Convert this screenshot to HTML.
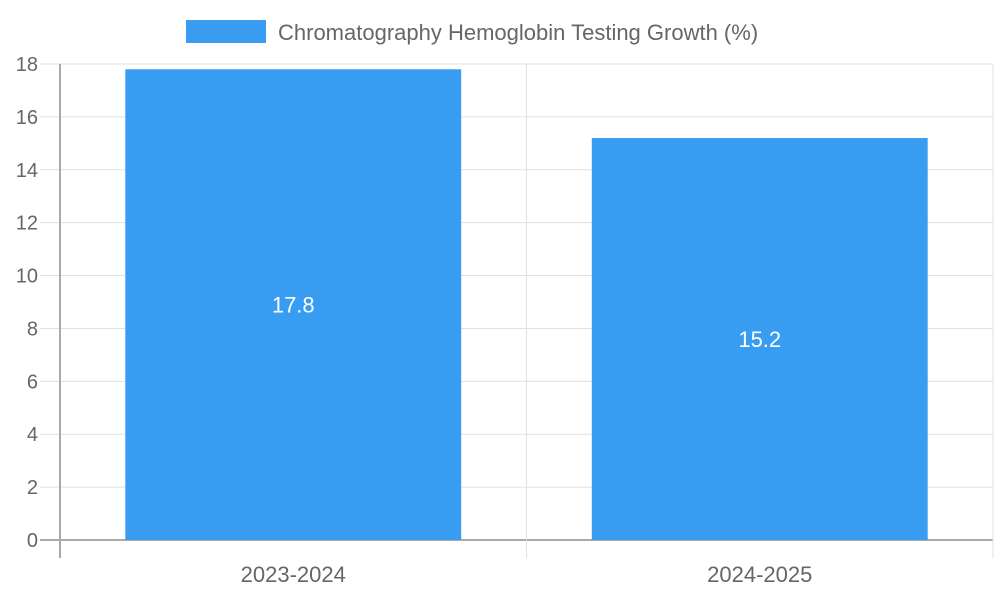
<!DOCTYPE html>
<html><head><meta charset="utf-8"><style>
html,body{margin:0;padding:0;background:#fff;}
svg{display:block;font-family:"Liberation Sans",sans-serif;}
</style></head><body>
<svg id="chart" width="1000" height="600">
<g id="grid"></g>
<g id="bars"></g>
<g id="axes"></g>
<g>
<rect x="186" y="20" width="80" height="23" fill="#389cf1"/>
<text x="278" y="40" font-size="22" fill="#666">Chromatography Hemoglobin Testing Growth (%)</text>
</g>
</svg>
<script>
const categories = ["2023-2024","2024-2025"];
const values = [17.8, 15.2];
const yTicks = [0,2,4,6,8,10,12,14,16,18];
const NS="http://www.w3.org/2000/svg";
const L=60,R=993,T=64,B=540,yMax=18;
function y(v){return B-(v/yMax)*(B-T);}
const cw=(R-L)/categories.length;
function xc(i){return L+cw*(i+0.5);}
function mk(tag,attrs,parent,text){const e=document.createElementNS(NS,tag);for(const k in attrs)e.setAttribute(k,attrs[k]);if(text!==undefined)e.textContent=text;parent.appendChild(e);return e;}
const grid=document.getElementById('grid'),bars=document.getElementById('bars'),axes=document.getElementById('axes');
yTicks.forEach(t=>{
  const ln=mk('line',{x1:40,x2:R,y1:y(t),y2:y(t),stroke:t===0?'#aaa':'#e0e0e0','stroke-width':t===0?2:1},grid);
  
  
  const tx=mk('text',{x:38,y:y(t)+7,'text-anchor':'end','font-size':20,fill:'#666'},axes,String(t));
  
  
});
for(let i=0;i<=categories.length;i++){
  const x=L+cw*i;
  const ln=mk('line',{x1:x,x2:x,y1:T,y2:558,stroke:i===0?'#aaa':'#e0e0e0','stroke-width':i===0?2:1},grid);
  
  
}
categories.forEach((c,i)=>{
  const bw=cw*0.72;
  const r=mk('rect',{x:xc(i)-bw/2,y:y(values[i]),width:bw,height:B-y(values[i]),fill:'#389cf1'},bars);
  
  
  const v=mk('text',{x:xc(i),y:(y(values[i])+B)/2+8,'text-anchor':'middle','font-size':22,fill:'#fff'},bars,String(values[i]));
  
  
  const lb=mk('text',{x:xc(i),y:582,'text-anchor':'middle','font-size':22,fill:'#666'},axes,c);
  
  
});
</script>
</body></html>
